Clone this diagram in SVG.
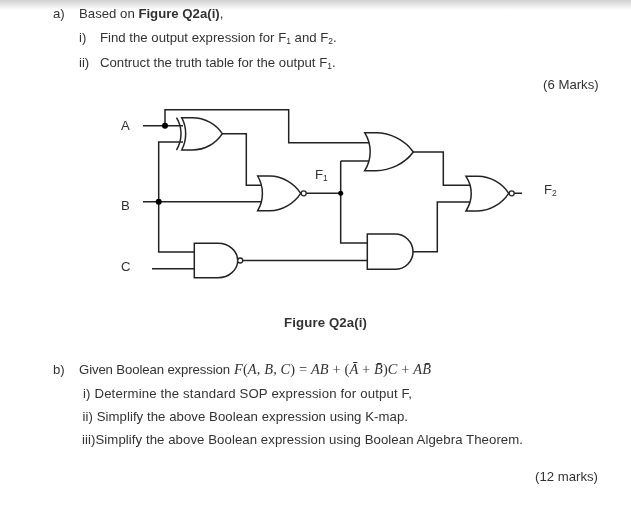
<svg xmlns="http://www.w3.org/2000/svg" width="631" height="508" viewBox="0 0 631 508">
<style>
text{font-family:"Liberation Sans",Arial,sans-serif;font-size:13.2px;fill:#333}
.b{font-weight:bold}
.s{font-size:8.5px}
.m{font-family:"Liberation Serif","Times New Roman",serif;font-style:italic;font-size:14.4px}
.u{font-style:normal}
.w,.g{fill:none;stroke:#222;stroke-width:1.5;stroke-linejoin:miter}
.g{fill:#fff}
.d{fill:#000}
.bub{fill:#fff;stroke:#222;stroke-width:1.3}
</style>
<defs>
<linearGradient id="top" x1="0" y1="0" x2="0" y2="1"><stop offset="0" stop-color="#d0d0d0"/><stop offset="1" stop-color="#fff"/></linearGradient>
<filter id="soft" x="-2%" y="-2%" width="104%" height="104%"><feGaussianBlur stdDeviation="0.4"/></filter>
</defs>
<rect width="631" height="508" fill="#fff"/>
<rect width="631" height="10" fill="url(#top)"/>
<g filter="url(#soft)">
<g id="text-a">
<text x="53" y="18">a)</text>
<text x="79" y="18">Based on <tspan class="b">Figure Q2a(i)</tspan>,</text>
<text x="79" y="42">i)</text>
<text x="100" y="42">Find the output expression for F<tspan class="s" dy="2">1</tspan><tspan dy="-2"> and F</tspan><tspan class="s" dy="2">2</tspan><tspan dy="-2">.</tspan></text>
<text x="79" y="66.500">ii)</text>
<text x="100" y="66.500">Contruct the truth table for the output F<tspan class="s" dy="2">1</tspan><tspan dy="-2">.</tspan></text>
<text x="543" y="89">(6 Marks)</text>
</g>
<g id="connectors">
<path class="w" d="M143 125.700H183M165 125.700V109.700H288.700V142.700H370"/>
<path class="w" d="M183 142H158.700V252H195M143 201.700H264"/>
<path class="w" d="M222 133.700H246.300V185.300H262"/>
<path class="w" d="M152 268.700H195"/>
<path class="w" d="M306 193.300H340.700M340.700 161H370M340.700 161V243H368M242.700 260.500H368"/>
<path class="w" d="M413 152H443.300V185.300H470M413 251.700H437.300V202H470M514 193.300H522"/>
<circle class="d" cx="165" cy="125.700" r="3"/>
<circle class="d" cx="158.700" cy="201.700" r="3"/>
<circle class="d" cx="340.700" cy="193.300" r="2.500"/>
</g>
<g id="xor">
<path class="g" d="M181.700 117.700H192C205 117.700 216 124 222.300 133.700C216 143.500 205 150 192 150H181.700C187 140 187 127.500 181.700 117.700Z"/>
<path class="w" d="M176.500 150C182.500 140 182.500 127.500 176.500 117.700"/>
</g>
<g id="nor1">
<path class="g" d="M257.700 176H270C282 176 294 183 300.700 193.300C294 203.500 282 210.700 270 210.700H257.700C264 200 264 187 257.700 176Z"/>
<circle class="bub" cx="303.700" cy="193.300" r="2.500"/>
</g>
<g id="nand">
<path class="g" d="M194.300 243.300H218C229 243.300 237.700 251 237.700 260.500C237.700 270 229 277.700 218 277.700H194.300Z"/>
<circle class="bub" cx="240.200" cy="260.500" r="2.500"/>
</g>
<g id="or">
<path class="g" d="M364.700 132.700H376C390 132.700 405 140 413.300 152C405 163.500 390 170.700 376 170.700H364.700C372 159 372 144.500 364.700 132.700Z"/>
</g>
<g id="and">
<path class="g" d="M367.300 234H395C405 234 413 242 413 251.700C413 261.500 405 269.300 395 269.300H367.300Z"/>
</g>
<g id="nor2">
<path class="g" d="M466 176.300H478C490 176.300 502 183 508.700 193.300C502 203.500 490 211 478 211H466C473 200 473 187 466 176.300Z"/>
<circle class="bub" cx="511.700" cy="193.300" r="2.500"/>
</g>
<g id="labels">
<text x="121" y="130">A</text>
<text x="121" y="209.500">B</text>
<text x="121" y="270.500">C</text>
<text x="315" y="179">F<tspan class="s" dy="2">1</tspan></text>
<text x="544" y="194">F<tspan class="s" dy="2">2</tspan></text>
<text class="b" x="284" y="327" textLength="83">Figure Q2a(i)</text>
</g>
<g id="text-b">
<text x="53" y="374">b)</text>
<text x="79" y="374" textLength="151">Given Boolean expression</text>
<text class="m" x="234" y="374" textLength="197" lengthAdjust="spacing">F<tspan class="u">(</tspan>A, B, C<tspan class="u">) = </tspan>AB<tspan class="u"> + (</tspan>Ā<tspan class="u"> + </tspan>B̄<tspan class="u">)</tspan>C<tspan class="u"> + </tspan>AB̄</text>
<text x="83" y="398" textLength="329">i) Determine the standard SOP expression for output F,</text>
<text x="82.500" y="421" textLength="325.500">ii) Simplify the above Boolean expression using K-map.</text>
<text x="82" y="443.500" textLength="441">iii)Simplify the above Boolean expression using Boolean Algebra Theorem.</text>
<text x="535" y="481">(12 marks)</text>
</g>
</g>
</svg>
